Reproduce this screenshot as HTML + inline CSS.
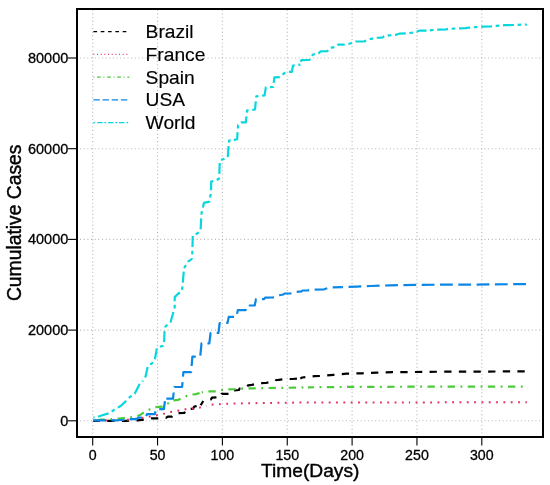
<!DOCTYPE html>
<html><head><meta charset="utf-8"><style>
html,body{margin:0;padding:0;background:#fff;}
svg{display:block;}
text{font-family:"Liberation Sans",Arial,Helvetica,sans-serif;fill:#000;stroke:#000;stroke-linejoin:round;}
.tk{stroke-width:0.3px;} .tt{stroke-width:0.4px;} .lg{stroke-width:0.15px;}
</style></head><body>
<svg width="550" height="485" viewBox="0 0 550 485">
<rect x="0" y="0" width="550" height="485" fill="#fff"/>
<g stroke="#b0b0b0" stroke-width="1.1" stroke-dasharray="0.91 2.733" fill="none"><line x1="92.70" y1="437.0" x2="92.70" y2="9.0"/><line x1="157.55" y1="437.0" x2="157.55" y2="9.0"/><line x1="222.40" y1="437.0" x2="222.40" y2="9.0"/><line x1="287.25" y1="437.0" x2="287.25" y2="9.0"/><line x1="352.10" y1="437.0" x2="352.10" y2="9.0"/><line x1="416.95" y1="437.0" x2="416.95" y2="9.0"/><line x1="481.80" y1="437.0" x2="481.80" y2="9.0"/><line x1="76.5" y1="420.80" x2="543.0" y2="420.80"/><line x1="76.5" y1="330.10" x2="543.0" y2="330.10"/><line x1="76.5" y1="239.40" x2="543.0" y2="239.40"/><line x1="76.5" y1="148.70" x2="543.0" y2="148.70"/><line x1="76.5" y1="58.00" x2="543.0" y2="58.00"/></g>
<polyline points="93.3,420.8 126.0,420.8 137.7,420.4 143.9,419.7 151.2,418.4 157.7,418.4 166.0,417.8 167.7,416.6 171.9,416.6 175.5,413.2 184.3,413.0 186.0,409.2 193.1,408.7 194.3,406.5 200.7,405.3" fill="none" stroke="#000000" stroke-width="2.2" stroke-dasharray="7.32 7.32" stroke-dashoffset="0.70" stroke-linejoin="round"/>
<polyline points="200.7,405.3 203.5,400.6 211.1,399.3 212.0,397.6 216.5,397.3 220.6,397.2 221.5,393.8 228.5,393.8 230.0,391.0 234.0,390.5 238.9,390.0 239.5,388.6 246.5,387.3 248.2,385.3 251.9,384.9 258.3,383.1 265.9,383.0 272.3,381.5 275.5,380.9 276.1,380.0 278.6,379.8 286.3,379.0 292.6,379.0 300.3,378.4" fill="none" stroke="#000000" stroke-width="2.2" stroke-dasharray="7.32 7.32" stroke-dashoffset="2.37" stroke-linejoin="round"/>
<polyline points="300.3,378.4 302.2,377.5 306.0,377.1 314.3,376.2 320.0,376.0 333.6,374.8 346.7,373.7 362.0,373.3 377.3,372.6 392.6,372.2 415.5,372.0 447.1,371.6 475.5,371.6 526.9,371.3" fill="none" stroke="#000000" stroke-width="2.2" stroke-dasharray="7.32 7.32" stroke-dashoffset="2.08" stroke-linejoin="round"/>
<polyline points="93.3,420.7 108.7,420.3 130.0,419.6 144.7,417.5 152.4,416.3 164.8,413.5 171.0,411.9 178.0,410.7 185.0,409.3 192.7,408.5 199.7,407.6 205.9,405.7" fill="none" stroke="#E4305F" stroke-width="2.0" stroke-dasharray="1.83 5.49" stroke-dashoffset="2.85" stroke-linejoin="round"/>
<polyline points="205.9,405.7 213.2,404.5 231.4,403.6 249.5,403.2 267.7,403.0 294.1,402.6 408.9,402.4" fill="none" stroke="#E4305F" stroke-width="2.0" stroke-dasharray="1.83 5.49" stroke-dashoffset="1.46" stroke-linejoin="round"/>
<polyline points="408.9,402.4 526.9,402.3" fill="none" stroke="#E4305F" stroke-width="2.0" stroke-dasharray="1.83 5.49" stroke-dashoffset="0.63" stroke-linejoin="round"/>
<polyline points="93.3,420.5 101.1,419.6 107.6,419.4 113.1,419.1 120.0,418.5 126.5,417.7 133.9,416.9 139.6,415.3 144.5,412.0 149.5,409.5 154.5,407.2 163.4,406.6 167.5,403.8 171.5,400.5 178.4,399.8 183.8,397.3 189.5,394.8 196.1,394.1 201.8,392.3" fill="none" stroke="#4ACB38" stroke-width="2.2" stroke-dasharray="1.83 5.49 7.32 5.49" stroke-dashoffset="3.11" stroke-linejoin="round"/>
<polyline points="201.8,392.3 205.5,391.5 215.0,391.3 221.5,390.0 228.0,389.3 234.5,389.1 241.4,388.6 254.7,388.3 267.8,388.0 294.5,387.7 307.9,387.3" fill="none" stroke="#4ACB38" stroke-width="2.2" stroke-dasharray="1.83 5.49 7.32 5.49" stroke-dashoffset="0.63" stroke-linejoin="round"/>
<polyline points="307.9,387.3 355.5,386.9 408.9,386.7 526.9,386.6" fill="none" stroke="#4ACB38" stroke-width="2.2" stroke-dasharray="1.83 5.49 7.32 5.49" stroke-dashoffset="8.49" stroke-linejoin="round"/>
<polyline points="93.3,420.3 118.5,420.3 119.8,420.0 127.6,420.0 128.9,419.2 136.7,419.1 138.0,417.7 145.7,417.7 147.0,414.1 154.8,414.1 156.1,409.1 163.9,409.1 165.2,398.6" fill="none" stroke="#0B87E5" stroke-width="2.2" stroke-dasharray="12.81 5.49" stroke-dashoffset="0.00" stroke-linejoin="round"/>
<polyline points="165.2,398.6 173.0,398.6 174.3,387.0 182.1,387.0 183.4,372.2 191.1,372.2 192.4,356.6 200.2,356.6 201.5,343.3 209.3,343.3 210.6,333.0 218.4,333.0 219.7,323.0 227.5,323.0 228.8,316.8 236.5,316.8 237.8,310.1 245.6,310.1 246.9,305.5 254.7,305.5 256.0,299.2 263.8,299.2 265.1,297.6 273.2,297.4 279.0,295.3 283.4,294.5 284.4,293.5 291.0,293.3 295.7,291.9 301.5,291.3 302.5,290.5 308.0,290.3 313.2,289.7 324.1,289.3 329.9,287.5 341.8,287.2" fill="none" stroke="#0B87E5" stroke-width="2.2" stroke-dasharray="12.81 5.49" stroke-dashoffset="17.17" stroke-linejoin="round"/>
<polyline points="341.8,287.2 356.4,286.7 370.9,286.0 390.0,285.3 417.3,284.8 471.8,284.6 526.9,284.1" fill="none" stroke="#0B87E5" stroke-width="2.2" stroke-dasharray="12.81 5.49" stroke-dashoffset="11.56" stroke-linejoin="round"/>
<polyline points="93.3,417.5 96.4,417.3 100.7,415.8 110.2,412.9 113.8,410.0 120.7,406.0 126.2,400.7 130.1,396.8 134.7,393.7 139.4,384.5 142.5,381.4" fill="none" stroke="#08D8DC" stroke-width="2.2" stroke-dasharray="3.66 3.66 10.98 3.66" stroke-dashoffset="2.40" stroke-linejoin="round"/>
<polyline points="142.5,381.4 145.5,376.7 147.9,365.9 151.7,363.6 154.8,359.7 156.9,348.1 157.6,347.4 163.3,345.8 164.1,341.2 164.6,330.1 165.5,326.5 170.6,322.0 174.7,307.4 174.7,297.1 177.8,294.0 182.0,290.9 183.0,280.6 184.0,268.2 188.0,261.6 192.1,258.8" fill="none" stroke="#08D8DC" stroke-width="2.2" stroke-dasharray="3.66 3.66 10.98 3.66" stroke-dashoffset="2.71" stroke-linejoin="round"/>
<polyline points="192.1,258.8 192.8,235.5 197.0,233.6 199.6,231.8 200.7,228.4 201.3,215.0 202.1,209.8 203.0,207.0 203.9,202.9 209.5,201.6 210.3,196.0 211.0,193.8 211.2,181.5 215.3,180.8 218.9,178.7 219.3,174.3 219.7,162.6 220.4,160.0 223.0,159.3 227.7,157.3 229.1,140.5 233.8,140.1" fill="none" stroke="#08D8DC" stroke-width="2.2" stroke-dasharray="3.66 3.66 10.98 3.66" stroke-dashoffset="17.50" stroke-linejoin="round"/>
<polyline points="233.8,140.1 237.1,139.2 238.1,125.1 241.1,122.4 245.8,122.4 246.5,116.0 247.2,110.4 255.0,109.5 256.3,96.3 264.6,95.3 265.8,87.4 273.2,87.0 274.4,77.4 279.6,77.2 283.3,74.0 286.0,72.0 291.8,71.8 293.0,65.5 300.4,64.7" fill="none" stroke="#08D8DC" stroke-width="2.2" stroke-dasharray="3.66 3.66 10.98 3.66" stroke-dashoffset="7.81" stroke-linejoin="round"/>
<polyline points="300.4,64.7 301.3,60.2 309.5,59.9 311.0,56.5 313.1,54.5 318.5,53.4 320.7,51.3 327.3,51.2 329.5,48.5 331.6,47.6 336.0,46.8 338.2,44.6 344.7,44.6" fill="none" stroke="#08D8DC" stroke-width="2.2" stroke-dasharray="3.66 3.66 10.98 3.66" stroke-dashoffset="4.38" stroke-linejoin="round"/>
<polyline points="344.7,44.6 350.2,43.5 355.6,41.5 364.4,41.3 369.8,39.2 375.3,37.8 382.9,37.6" fill="none" stroke="#08D8DC" stroke-width="2.2" stroke-dasharray="3.66 3.66 10.98 3.66" stroke-dashoffset="18.18" stroke-linejoin="round"/>
<polyline points="382.9,37.6 384.0,36.3 389.5,35.3 396.0,34.8 399.3,33.7 406.9,33.3 412.4,32.6 415.6,31.7 417.1,31.6 419.2,30.7 426.5,30.7" fill="none" stroke="#08D8DC" stroke-width="2.2" stroke-dasharray="3.66 3.66 10.98 3.66" stroke-dashoffset="16.50" stroke-linejoin="round"/>
<polyline points="426.5,30.7 431.7,30.1 438.0,29.7 446.4,29.5 447.4,29.0 453.7,28.6 460.0,28.3" fill="none" stroke="#08D8DC" stroke-width="2.2" stroke-dasharray="3.66 3.66 10.98 3.66" stroke-dashoffset="18.56" stroke-linejoin="round"/>
<polyline points="460.0,28.3 465.2,28.2 469.4,27.6 475.6,27.1 482.0,26.6 490.3,26.5 496.5,25.9 503.9,25.2 513.3,25.0 526.9,24.5" fill="none" stroke="#08D8DC" stroke-width="2.2" stroke-dasharray="3.66 3.66 10.98 3.66" stroke-dashoffset="8.13" stroke-linejoin="round"/>
<rect x="77" y="9" width="466" height="428" fill="none" stroke="#000" stroke-width="2"/>
<g stroke="#000" stroke-width="1.1"><line x1="92.70" y1="437" x2="92.70" y2="445.5"/><line x1="157.55" y1="437" x2="157.55" y2="445.5"/><line x1="222.40" y1="437" x2="222.40" y2="445.5"/><line x1="287.25" y1="437" x2="287.25" y2="445.5"/><line x1="352.10" y1="437" x2="352.10" y2="445.5"/><line x1="416.95" y1="437" x2="416.95" y2="445.5"/><line x1="481.80" y1="437" x2="481.80" y2="445.5"/><line x1="68" y1="420.80" x2="77" y2="420.80"/><line x1="68" y1="330.10" x2="77" y2="330.10"/><line x1="68" y1="239.40" x2="77" y2="239.40"/><line x1="68" y1="148.70" x2="77" y2="148.70"/><line x1="68" y1="58.00" x2="77" y2="58.00"/></g>
<text transform="translate(92.70,459.7) scale(0.980,1)" font-size="14.50" text-anchor="middle" class="tk">0</text>
<text transform="translate(157.55,459.7) scale(0.980,1)" font-size="14.50" text-anchor="middle" class="tk">50</text>
<text transform="translate(222.40,459.7) scale(0.980,1)" font-size="14.50" text-anchor="middle" class="tk">100</text>
<text transform="translate(287.25,459.7) scale(0.980,1)" font-size="14.50" text-anchor="middle" class="tk">150</text>
<text transform="translate(352.10,459.7) scale(0.980,1)" font-size="14.50" text-anchor="middle" class="tk">200</text>
<text transform="translate(416.95,459.7) scale(0.980,1)" font-size="14.50" text-anchor="middle" class="tk">250</text>
<text transform="translate(481.80,459.7) scale(0.980,1)" font-size="14.50" text-anchor="middle" class="tk">300</text>
<text transform="translate(68.3,425.80) scale(1.000,1)" font-size="14.50" text-anchor="end" class="tk">0</text>
<text transform="translate(68.3,335.10) scale(1.000,1)" font-size="14.50" text-anchor="end" class="tk">20000</text>
<text transform="translate(68.3,244.40) scale(1.000,1)" font-size="14.50" text-anchor="end" class="tk">40000</text>
<text transform="translate(68.3,153.70) scale(1.000,1)" font-size="14.50" text-anchor="end" class="tk">60000</text>
<text transform="translate(68.3,63.00) scale(1.000,1)" font-size="14.50" text-anchor="end" class="tk">80000</text>
<text transform="translate(310.2,477.1) scale(1.028,1)" font-size="18.70" text-anchor="middle" class="tt">Time(Days)</text>
<text transform="translate(21.4,222.8) scale(1.030,1) rotate(-90)" font-size="19.30" text-anchor="middle" class="tt">Cumulative Cases</text>
<line x1="93.4" y1="31.6" x2="129.4" y2="31.6" stroke="#000000" stroke-width="1.3" stroke-dasharray="3.66 3.66"/>
<text transform="translate(145.6,38.0) scale(1.050,1)" font-size="18.30" class="lg">Brazil</text>
<line x1="93.4" y1="54.4" x2="129.4" y2="54.4" stroke="#E4305F" stroke-width="1.3" stroke-dasharray="0.92 2.75"/>
<text transform="translate(145.6,61.0) scale(1.050,1)" font-size="18.30" class="lg">France</text>
<line x1="93.4" y1="77.1" x2="129.4" y2="77.1" stroke="#4ACB38" stroke-width="1.3" stroke-dasharray="0.92 2.75 3.66 2.75"/>
<text transform="translate(145.6,83.6) scale(1.050,1)" font-size="18.30" class="lg">Spain</text>
<line x1="93.4" y1="99.9" x2="129.4" y2="99.9" stroke="#0B87E5" stroke-width="1.3" stroke-dasharray="6.41 2.75"/>
<text transform="translate(145.6,106.4) scale(1.050,1)" font-size="18.30" class="lg">USA</text>
<line x1="93.4" y1="122.6" x2="129.4" y2="122.6" stroke="#08D8DC" stroke-width="1.3" stroke-dasharray="1.83 1.83 5.49 1.83"/>
<text transform="translate(145.6,128.9) scale(1.050,1)" font-size="18.30" class="lg">World</text>
</svg>
</body></html>
